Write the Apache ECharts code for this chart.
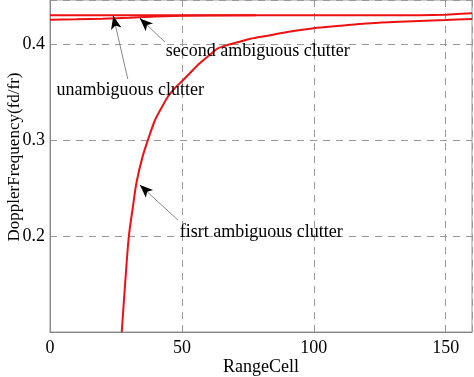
<!DOCTYPE html>
<html>
<head>
<meta charset="utf-8">
<script src="https://cdn.jsdelivr.net/npm/echarts@6/dist/echarts.min.js"></script>
<style>
  html, body { margin: 0; padding: 0; background: #fff; }
  #chart { width: 474px; height: 377px; }
</style>
</head>
<body>
<div id="chart"></div>
<script>
// 读图得到的数据
var xTicks = [0, 50, 100, 150];
var yTicks = [0.2, 0.3, 0.4];

// second ambiguous clutter（上面那条近似水平线）
var secondX = [0, 140, 150, 156, 160];
var secondY = [0.4306, 0.4306, 0.4312, 0.4322, 0.4326];

// unambiguous clutter（下面那条短线）
var unambX = [0, 10, 20, 30, 40, 50, 60, 78];
var unambY = [0.4260, 0.4263, 0.4270, 0.4279, 0.4292, 0.4300, 0.4304, 0.4306];

// fisrt ambiguous clutter（曲线）
var firstX = [27.2, 28.5, 29.9, 31.5, 32.8, 35, 37.2, 39.8, 42.5, 44.8, 47.5, 50.5, 54, 57, 60.5, 63.6, 68, 72, 76, 82, 90, 100, 110, 120, 130, 140, 150, 160];
var firstY = [0.100, 0.151, 0.200, 0.232, 0.256, 0.282, 0.301, 0.321, 0.335, 0.346, 0.355, 0.363, 0.373, 0.381, 0.389, 0.396, 0.400, 0.403, 0.406, 0.409, 0.413, 0.417, 0.4195, 0.422, 0.4235, 0.4247, 0.4256, 0.4266];

// 标注：文字位置和箭头（数据坐标）
var noteText = ['second ambiguous clutter', 'unambiguous clutter', 'fisrt ambiguous clutter'];
var noteAt = [[43.9, 0.3927], [2.5, 0.3525], [49.2, 0.2046]];
var arrowTail = [[43.6, 0.4026], [29.5, 0.3640], [48.5, 0.2168]];
var arrowTip = [[34.1, 0.4273], [24.0, 0.4297], [34.1, 0.2533]];

function pairs(xs, ys) {
  return xs.map(function (x, i) { return [x, ys[i]]; });
}

var font = 'Liberation Serif';
var red = '#ee1111';

var chart = echarts.init(document.getElementById('chart'));

// 箭头：灰色细线 + 黑色箭头
var arrowLines = [];
arrowTail.forEach(function (tail, i) {
  var tip = arrowTip[i];
  arrowLines.push([
    { coord: tail, symbol: 'none' },
    { coord: tip, symbol: 'none' }
  ]);
  // 箭头头部附近的短黑线
  var near = [tip[0] + (tail[0] - tip[0]) * 0.15, tip[1] + (tail[1] - tip[1]) * 0.15];
  arrowLines.push([
    { coord: near, symbol: 'none', lineStyle: { color: '#000', width: 1 } },
    { coord: tip, symbol: 'arrow', symbolSize: [8, 13], lineStyle: { color: '#000', width: 1 } }
  ]);
});

var notes = noteText.map(function (t, i) {
  return {
    coord: noteAt[i],
    symbolSize: 0,
    label: {
      show: true,
      formatter: t,
      position: 'right',
      distance: 0,
      color: '#000',
      fontFamily: font,
      fontSize: 18
    }
  };
});

chart.setOption({
  animation: false,
  grid: {
    left: 50,
    right: 2,
    top: 0,
    bottom: 45,
    outerBoundsMode: 'none',
    containLabel: false,
    show: true,
    borderColor: '#999',
    borderWidth: 1,
    backgroundColor: 'transparent'
  },
  xAxis: {
    type: 'value',
    min: 0,
    max: 160,
    interval: 50,
    name: 'RangeCell',
    nameLocation: 'middle',
    nameGap: 26,
    nameMoveOverlap: false,
    nameTextStyle: { color: '#000', fontFamily: font, fontSize: 18 },
    axisLine: { show: true, lineStyle: { color: '#888' } },
    axisTick: { show: false },
    axisLabel: { color: '#000', fontFamily: font, fontSize: 18, margin: 7, showMaxLabel: false },
    splitLine: { show: true, lineStyle: { color: '#999', type: [7, 6] } }
  },
  yAxis: {
    type: 'value',
    min: 0.1,
    max: 0.4465,
    interval: 0.1,
    name: 'DopplerFrequency(fd/fr)',
    nameLocation: 'middle',
    nameGap: 27,
    nameMoveOverlap: false,
    nameTextStyle: { color: '#000', fontFamily: font, fontSize: 17, padding: [0, 0, 0, 18] },
    axisLine: { show: true, lineStyle: { color: '#888' } },
    axisTick: { show: false },
    axisLabel: { color: '#000', fontFamily: font, fontSize: 18, margin: 5, showMinLabel: false, showMaxLabel: false },
    splitLine: { show: true, lineStyle: { color: '#999', type: [7, 6] } }
  },
  series: [
    {
      name: 'second ambiguous clutter',
      type: 'line',
      data: pairs(secondX, secondY),
      showSymbol: false,
      lineStyle: { color: red, width: 2 },
      markLine: {
        silent: true,
        symbol: 'none',
        label: { show: false },
        lineStyle: { color: '#888', width: 1, type: 'solid' },
        data: arrowLines
      },
      markPoint: {
        silent: true,
        symbol: 'circle',
        data: notes
      }
    },
    {
      name: 'unambiguous clutter',
      type: 'line',
      data: pairs(unambX, unambY),
      showSymbol: false,
      lineStyle: { color: red, width: 2 }
    },
    {
      name: 'fisrt ambiguous clutter',
      type: 'line',
      data: pairs(firstX, firstY),
      showSymbol: false,
      smooth: 0.3,
      lineStyle: { color: red, width: 2 }
    }
  ]
});
</script>
</body>
</html>
